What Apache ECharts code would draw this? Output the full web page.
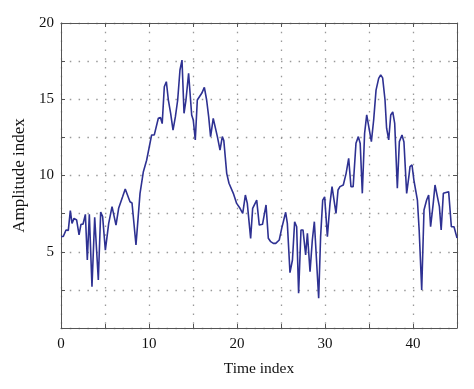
<!DOCTYPE html>
<html><head><meta charset="utf-8">
<script src="https://cdn.jsdelivr.net/npm/echarts@6/dist/echarts.min.js"></script>
<style>html,body{margin:0;padding:0;background:#fff}#c{width:474px;height:389px}</style>
</head><body><div id="c"></div>
<script>
const timeIdx = [0,0.26,0.57,0.83,1.06,1.25,1.48,1.78,2.05,2.27,2.5,2.77,2.99,3.22,3.52,3.83,4.05,4.24,4.51,4.73,5.04,5.42,5.8,6.25,6.55,7.0,7.3,7.5,7.84,8.07,8.52,8.98,9.36,9.73,10.04,10.3,10.6,10.8,11.06,11.3,11.5,11.74,11.97,12.2,12.46,12.73,13.0,13.26,13.52,13.75,13.98,14.2,14.5,14.85,15.03,15.26,15.49,15.7,15.99,16.29,16.55,16.78,17.0,17.3,17.5,17.77,18.07,18.33,18.5,18.83,19.09,19.3,19.58,19.96,20.34,20.65,20.95,21.17,21.55,21.78,22.24,22.53,22.9,23.3,23.56,23.83,24.13,24.4,24.8,25.08,25.27,25.53,25.72,26.02,26.3,26.55,26.78,27.0,27.27,27.5,27.8,28.0,28.3,28.56,28.79,29.0,29.28,29.5,29.74,29.96,30.27,30.57,30.8,31.0,31.25,31.48,31.7,32.08,32.4,32.69,32.95,33.2,33.52,33.79,34.0,34.24,34.5,34.74,34.96,35.27,35.53,35.8,36.1,36.33,36.55,36.82,37.0,37.24,37.47,37.7,37.92,38.22,38.45,38.75,38.97,39.28,39.55,39.66,39.89,40.1,40.5,40.7,40.99,41.25,41.55,41.78,42.0,42.3,42.5,42.7,43.0,43.2,43.45,43.67,44.05,44.36,44.66,44.96,45];
const amplitude = [6.0,6.0,6.43,6.4,7.7,6.86,7.19,7.08,6.1,6.8,6.8,7.45,4.46,7.45,2.71,7.26,7.26,3.15,7.6,7.3,5.11,6.86,7.96,6.75,7.85,8.6,9.11,9.0,8.28,8.2,5.44,8.83,10.25,11.0,11.9,12.66,12.66,12.55,13.75,13.8,13.4,15.82,16.15,14.95,14.08,12.98,13.86,14.95,16.92,17.57,14.08,14.95,16.7,13.97,13.64,12.33,14.95,15.0,15.39,15.78,14.95,13.86,12.55,13.75,13.7,12.55,11.67,12.55,12.3,10.14,9.49,9.6,8.83,8.17,7.85,7.52,8.72,8.17,5.88,7.85,8.39,6.75,6.8,8.07,5.88,5.66,5.55,5.55,5.77,6.53,6.4,7.59,6.86,3.63,4.46,6.97,6.64,2.28,6.43,6.43,4.79,6.21,3.69,5.77,6.97,7.05,1.95,5.99,8.39,8.6,5.99,8.17,9.27,9.2,7.52,9.05,9.27,9.38,10.14,11.13,9.27,9.27,12.11,12.55,12.1,8.83,12.77,13.97,13.97,12.22,13.64,15.6,16.37,16.6,16.4,14.95,13.1,12.33,13.97,14.17,13.42,9.16,12.22,12.66,12.2,8.83,10.03,10.58,10.69,9.7,8.39,6.43,2.49,7.74,8.39,8.72,6.64,8.17,9.38,9.38,7.96,6.43,8.83,8.94,8.94,6.64,6.64,5.99,5.9];
const xTickLabels = [0,10,20,30,40];
const yTickLabels = [5,10,15,20];

const font = 'Liberation Serif';
const lineCol = '#555';
const gridLine = {show:true, lineStyle:{color:'#999', type:[1.5,7.3], width:1.3}};
const chart = echarts.init(document.getElementById('c'));
const baseX = {type:'value', min:0, max:45, interval:5,
  axisLine:{show:true, onZero:false, lineStyle:{color:lineCol, width:1}},
  axisTick:{show:true, inside:true, length:4, lineStyle:{color:lineCol}}};
const baseY = {type:'value', min:0, max:20, interval:2.5,
  axisLine:{show:true, onZero:false, lineStyle:{color:lineCol, width:1}},
  axisTick:{show:true, inside:true, length:4, lineStyle:{color:lineCol}}};
chart.setOption({
  animation:false,
  grid:{left:61, right:17, top:23, bottom:61, containLabel:false},
  xAxis:[
    Object.assign({}, baseX, {position:'bottom', name:'Time index', nameLocation:'middle', nameGap:33,
      nameTextStyle:{fontFamily:font, fontSize:15.5, color:'#111'},
      splitLine:gridLine,
      axisLabel:{fontFamily:font, fontSize:15, color:'#111', margin:9,
        formatter:v=> xTickLabels.includes(v) ? String(v) : ''}}),
    Object.assign({}, baseX, {position:'top', axisLabel:{show:false}, splitLine:{show:false}})
  ],
  yAxis:[
    Object.assign({}, baseY, {position:'left', name:'Amplitude index', nameLocation:'middle', nameGap:21,
      nameRotate:90,
      nameTextStyle:{fontFamily:font, fontSize:17, color:'#111'},
      splitLine:gridLine,
      axisLabel:{fontFamily:font, fontSize:15, color:'#111', margin:7,
        formatter:v=> yTickLabels.includes(v) ? String(v) : ''}}),
    Object.assign({}, baseY, {position:'right', axisLabel:{show:false}, splitLine:{show:false}})
  ],
  series:[{type:'line', xAxisIndex:0, yAxisIndex:0, showSymbol:false, symbol:'none',
    data: timeIdx.map((t,i)=>[t, amplitude[i]]),
    lineStyle:{color:'#2e3192', width:1.6}}]
});
</script></body></html>
